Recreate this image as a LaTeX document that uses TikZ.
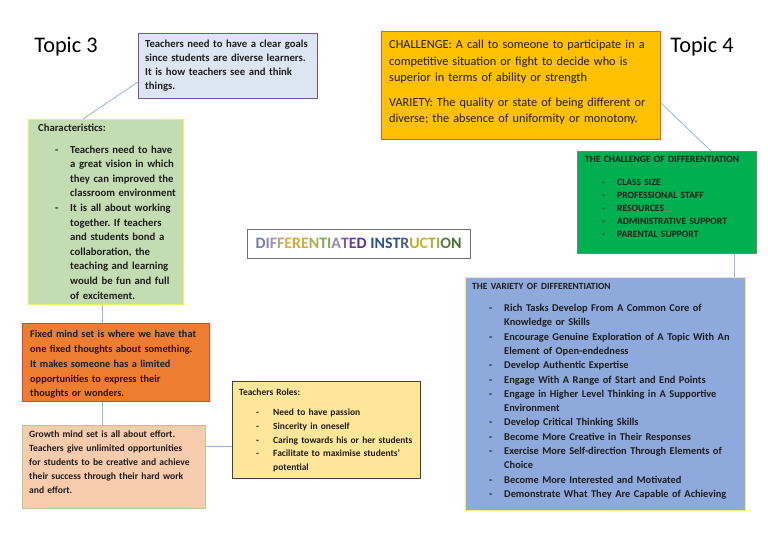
\documentclass[tikz,border=0pt]{standalone}
\usepackage{fontspec}
\setmainfont{Carlito}
\definecolor{txtc}{HTML}{1E1E1E}
\definecolor{linec}{HTML}{8DB3E2}
\definecolor{goalfill}{HTML}{DCE6F2}
\definecolor{goaldraw}{HTML}{7F4FA6}
\definecolor{charfill}{HTML}{C4DCB2}
\definecolor{chardraw}{HTML}{E8F060}
\definecolor{fixfill}{HTML}{ED7D31}
\definecolor{fixdraw}{HTML}{F03A2E}
\definecolor{growfill}{HTML}{F8CBAD}
\definecolor{growdraw}{HTML}{A9D18E}
\definecolor{rolefill}{HTML}{FFE699}
\definecolor{roledraw}{HTML}{404040}
\definecolor{chalfill}{HTML}{FFC000}
\definecolor{chaldraw}{HTML}{EE5A28}
\definecolor{diffill}{HTML}{00B050}
\definecolor{difdraw}{HTML}{7F7F7F}
\definecolor{varfill}{HTML}{8EA9DB}
\definecolor{vardraw}{HTML}{F2F26A}
\definecolor{titdraw}{HTML}{707070}
\newcommand\ditem[2]{\par\noindent\hangindent=#1\hangafter=1\hbox to #1{\hspace*{#2}-\hfil}\ignorespaces}
\newcommand\lc[2]{\textcolor[HTML]{#1}{#2}}
\hyphenpenalty=10000
\exhyphenpenalty=10000
\frenchspacing
\begin{document}
\frenchspacing
\begin{tikzpicture}[x=1pt,y=-1pt,
  box/.style={anchor=north west, inner sep=0pt, line width=1pt},
  txt/.style={anchor=north west, inner sep=0pt, align=left, text=txtc},
  link/.style={draw=linec, line width=0.8pt}]
\useasboundingbox (0,0) rectangle (768,543);
% topic labels
\node[anchor=center, inner sep=0pt, font=\fontsize{22.3}{26}\selectfont, text=black] (topic3) at (66,47) {Topic 3};
\node[anchor=center, inner sep=0pt, font=\fontsize{22.3}{26}\selectfont, text=black] (topic4) at (702,47) {Topic 4};
% boxes
\node[box, draw=goaldraw, fill=goalfill, minimum width=179pt, minimum height=65pt] (goal) at (138,33) {};
\node[box, draw=chardraw, fill=charfill, minimum width=155pt, minimum height=185pt] (char) at (28,119) {};
\node[box, draw=fixdraw, fill=fixfill, minimum width=187pt, minimum height=78pt] (fix) at (22,323) {};
\node[box, draw=growdraw, fill=growfill, minimum width=183pt, minimum height=83pt] (grow) at (22,425) {};
\node[box, draw=roledraw, fill=rolefill, minimum width=188pt, minimum height=97pt] (role) at (232,381) {};
\node[box, draw=titdraw, fill=white, minimum width=223pt, minimum height=29pt] (title) at (247,229) {};
\node[box, draw=chaldraw, fill=chalfill, minimum width=279pt, minimum height=108pt] (chal) at (381,31) {};
\node[box, draw=difdraw, fill=diffill, minimum width=179pt, minimum height=102pt] (dif) at (577,151) {};
\node[box, draw=vardraw, fill=varfill, minimum width=280pt, minimum height=233pt] (var) at (465,277) {};
% connectors
\coordinate (goalL) at ([yshift=-49pt]goal.north west);
\coordinate (charT) at ([xshift=55pt]char.north west);
\draw[link] (goalL) -- (charT);
\coordinate (charB) at ([xshift=-13.5pt]char.south -| fix.north);
\draw[link] (charB) -- (charB |- fix.north);
\coordinate (fixB) at ([xshift=-13.5pt]fix.south);
\draw[link] (fixB) -- (fixB |- grow.north);
\coordinate (growR) at ([yshift=-21pt]grow.north east);
\draw[link] (growR) -- (growR -| role.west);
\coordinate (chalR) at ([yshift=-72pt]chal.north east);
\coordinate (difT) at ([xshift=-46pt]dif.north east);
\draw[link] (chalR) -- (difT);
\coordinate (difB) at ([xshift=-23pt]dif.south east);
\draw[link] (difB) -- (difB |- var.north);
% texts
\node[txt, text width=200pt, font=\fontsize{10.7}{14}\selectfont\bfseries] (goal-t) at (145,38) {\strut Teachers need to have a clear goals\newline since students are diverse learners.\newline It is how teachers see and think\newline things.\par};
\node[txt, text width=180pt, font=\fontsize{10.7}{14.6}\selectfont\bfseries] (char-t) at (38,121.5) {\strut Characteristics:\par\vspace{6.5pt}
\ditem{32pt}{17pt}Teachers need to have\newline a great vision in which\newline they can improved the\newline classroom environment
\ditem{32pt}{17pt}It is all about working\newline together. If teachers\newline and students bond a\newline collaboration, the\newline teaching and learning\newline would be fun and full\newline of excitement.\par};
\node[txt, text width=220pt, font=\fontsize{10.3}{14.7}\selectfont\bfseries] (fix-t) at (30,327.5) {\strut Fixed mind set is where we have that\newline one fixed thoughts about something.\newline It makes someone has a limited\newline opportunities to express their\newline thoughts or wonders.\par};
\node[txt, text width=220pt, font=\fontsize{9.6}{14.2}\selectfont\bfseries] (grow-t) at (29,427) {\strut Growth mind set is all about effort.\newline Teachers give unlimited opportunities\newline for students to be creative and achieve\newline their success through their hard work\newline and effort.\par};
\node[txt, text width=220pt, font=\fontsize{9.45}{13.6}\selectfont\bfseries] (role-t) at (239,386) {\strut Teachers Roles:\par\vspace{6.5pt}
\ditem{34pt}{17pt}Need to have passion
\ditem{34pt}{17pt}Sincerity in oneself
\ditem{34pt}{17pt}Caring towards his or her students
\ditem{34pt}{17pt}Facilitate to maximise students'\newline potential\par};
\node[txt, text width=300pt, font=\fontsize{12.3}{16.3}\selectfont] (chal-t) at (389,37.1) {\strut CHALLENGE: A call to someone to participate in a\newline competitive situation or fight to decide who is\newline superior in terms of ability or strength\par\vspace{8.5pt}
VARIETY: The quality or state of being different or\newline diverse; the absence of uniformity or monotony.\par};
\node[txt, text width=220pt, font=\fontsize{9.6}{12.8}\selectfont\bfseries] (dif-t) at (585,153) {\strut THE CHALLENGE OF DIFFERENTIATION\par\vspace{11pt}
\ditem{32pt}{17pt}CLASS SIZE
\ditem{32pt}{17pt}PROFESSIONAL STAFF
\ditem{32pt}{17pt}RESOURCES
\ditem{32pt}{17pt}ADMINISTRATIVE SUPPORT
\ditem{32pt}{17pt}PARENTAL SUPPORT\par};
\node[txt, text width=300pt, font=\fontsize{10.4}{14.3}\selectfont\bfseries] (var-t) at (472,279) {\strut{\fontsize{9.4}{12}\selectfont THE VARIETY OF DIFFERENTIATION}\par\vspace{8pt}
\ditem{32pt}{17pt}Rich Tasks Develop From A Common Core of\newline Knowledge or Skills
\ditem{32pt}{17pt}Encourage Genuine Exploration of A Topic With An\newline Element of Open-endedness
\ditem{32pt}{17pt}Develop Authentic Expertise
\ditem{32pt}{17pt}Engage With A Range of Start and End Points
\ditem{32pt}{17pt}Engage in Higher Level Thinking in A Supportive\newline Environment
\ditem{32pt}{17pt}Develop Critical Thinking Skills
\ditem{32pt}{17pt}Become More Creative in Their Responses
\ditem{32pt}{17pt}Exercise More Self-direction Through Elements of\newline Choice
\ditem{32pt}{17pt}Become More Interested and Motivated
\ditem{32pt}{17pt}Demonstrate What They Are Capable of Achieving\par};
\node[anchor=center, inner sep=0pt, font=\fontsize{15.9}{18}\selectfont\bfseries] (title-t) at (358.5,243.5) {\lc{6F7FA8}{D}\lc{8A88B0}{I}\lc{9C8FB5}{F}\lc{B8A27A}{F}\lc{D9B23A}{E}\lc{D8A83A}{R}\lc{C9B040}{E}\lc{A9B04A}{N}\lc{88A855}{T}\lc{7FA860}{I}\lc{9A8AB0}{A}\lc{7E5AA0}{T}\lc{6A3FA0}{E}\lc{5A2F90}{D} \lc{2F4F90}{I}\lc{2F4F90}{N}\lc{2F4F90}{S}\lc{34508F}{T}\lc{4A5A80}{R}\lc{B8B020}{U}\lc{C0B828}{C}\lc{B0B030}{T}\lc{A0B040}{I}\lc{5A7A40}{O}\lc{4A6A30}{N}};
\end{tikzpicture}
\end{document}
